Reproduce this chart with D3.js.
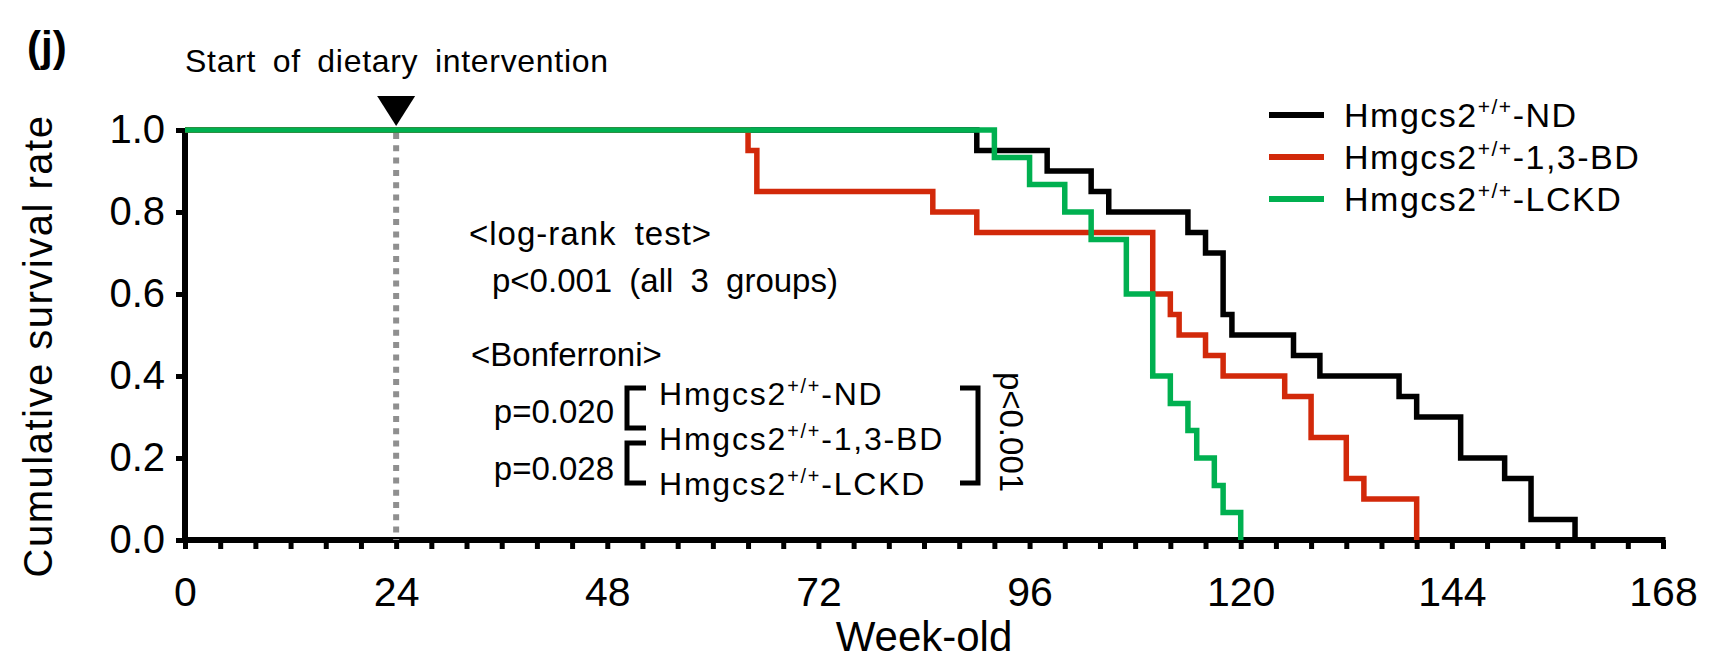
<!DOCTYPE html>
<html>
<head>
<meta charset="utf-8">
<script src="https://cdn.jsdelivr.net/npm/d3@7"></script>
<style>
  body { margin: 0; background: #fff; }
  text { font-family: "Liberation Sans", Arial, sans-serif; fill: #000; }
</style>
</head>
<body>
<div id="chart"></div>
<script>
/* Kaplan-Meier survival curves, Hmgcs2+/+ mice on 3 diets */

// --- data ---
const groupNames = ["ND", "1,3-BD", "LCKD"];
const groupColors = ["#000000", "#d2290a", "#00b050"];

const weeksND = [90, 98, 103, 105, 114, 116, 118, 119, 126, 129, 138, 140, 145, 150, 153, 158];
const survND  = [0.95, 0.90, 0.85, 0.80, 0.75, 0.70, 0.55, 0.50, 0.45, 0.40, 0.35, 0.30, 0.20, 0.15, 0.05, 0];

const weeksBD = [64, 65, 85, 90, 110, 112, 113, 116, 118, 125, 128, 132, 134, 140];
const survBD  = [0.95, 0.85, 0.80, 0.75, 0.60, 0.55, 0.50, 0.45, 0.40, 0.35, 0.25, 0.15, 0.10, 0];

const weeksLCKD = [92, 96, 100, 103, 107, 110, 112, 114, 115, 117, 118, 120];
const survLCKD  = [0.933, 0.867, 0.80, 0.733, 0.60, 0.40, 0.333, 0.267, 0.20, 0.133, 0.067, 0];

const xTicks = d3.range(0, 169, 4);      // minor ticks every 4 weeks
const xLabels = [0, 24, 48, 72, 96, 120, 144, 168];
const yTicks = [0, 0.2, 0.4, 0.6, 0.8, 1.0];
const startWeek = 24;                    // start of dietary intervention

const width = 1725,
      height = 669,
      margin = ({ top: 130, right: 62, bottom: 129, left: 185 });

let svg = d3.select("#chart")
    .append("svg")
    .attr("width", width)
    .attr("height", height);

let x = d3.scaleLinear()
    .domain([0, 168])
    .range([margin.left, width - margin.right]);

let y = d3.scaleLinear()
    .domain([0, 1])
    .range([height - margin.bottom, margin.top]);

// text with superscript "+/+"
function hmgcs(sel, suffix, size) {
    sel.append("tspan").text("Hmgcs2");
    sel.append("tspan").text("+/+")
        .attr("font-size", size * 0.62)
        .attr("dy", -size * 0.38);
    sel.append("tspan").text("-" + suffix)
        .attr("dy", size * 0.38);
}

/* axes */
const xAxis = g => g
    .attr("transform", `translate(0, ${y(0)})`)
    .call(d3.axisBottom(x)
        .tickValues(xTicks)
        .tickSize(9)
        .tickPadding(28)
        .tickFormat(d => xLabels.includes(d) ? d : ""))
    .call(g => g.select(".domain").remove())
    .call(g => g.selectAll(".tick line").attr("stroke", "#000").attr("stroke-width", 5))
    .call(g => g.selectAll(".tick text").attr("font-size", 41).attr("font-family", null));

const yAxis = g => g
    .attr("transform", `translate(${x(0)}, 0)`)
    .call(d3.axisLeft(y)
        .tickValues(yTicks)
        .tickSize(9)
        .tickPadding(11)
        .tickFormat(d3.format(".1f")))
    .call(g => g.select(".domain").remove())
    .call(g => g.selectAll(".tick line").attr("stroke", "#000").attr("stroke-width", 5))
    .call(g => g.selectAll(".tick text").attr("font-size", 40).attr("font-family", null));

svg.append("g").call(xAxis);
svg.append("g").call(yAxis);

// axis lines
svg.append("line")
    .attr("x1", x(0) - 2.5).attr("x2", x(168) + 2.5)
    .attr("y1", y(0)).attr("y2", y(0))
    .attr("stroke", "#000").attr("stroke-width", 6);
svg.append("line")
    .attr("x1", x(0)).attr("x2", x(0))
    .attr("y1", y(1)).attr("y2", y(0))
    .attr("stroke", "#000").attr("stroke-width", 6);

// dotted line at start of intervention
svg.append("line")
    .attr("x1", x(startWeek)).attr("x2", x(startWeek))
    .attr("y1", y(1) + 3).attr("y2", y(0))
    .attr("stroke", "#8f8f8f")
    .attr("stroke-width", 6)
    .attr("stroke-dasharray", "6,6.3");

/* survival curves */
const series = [
    { weeks: weeksND, surv: survND },
    { weeks: weeksBD, surv: survBD },
    { weeks: weeksLCKD, surv: survLCKD }
];

const line = d3.line()
    .x(d => x(d[0]))
    .y(d => y(d[1]))
    .curve(d3.curveStepAfter);

series.forEach((s, i) => {
    let pts = [[0, 1]].concat(s.weeks.map((w, j) => [w, s.surv[j]]));
    svg.append("path")
        .attr("d", line(pts))
        .attr("fill", "none")
        .attr("stroke", groupColors[i])
        .attr("stroke-width", 5.5);
});

// triangle marker
const tx = x(startWeek), ty = y(1) - 4;
svg.append("path")
    .attr("d", `M${tx - 19},${ty - 30} L${tx + 19},${ty - 30} L${tx},${ty} Z`)
    .attr("fill", "#000");

/* labels */
svg.append("text")
    .attr("x", 27).attr("y", 61)
    .attr("font-size", 42).attr("font-weight", "bold")
    .text("(j)");

svg.append("text")
    .attr("x", 185).attr("y", 72)
    .attr("font-size", 32)
    .attr("letter-spacing", 0.7)
    .attr("word-spacing", 7)
    .text("Start of dietary intervention");

svg.append("text")
    .attr("x", (x(0) + x(168)) / 2).attr("y", 651)
    .attr("text-anchor", "middle")
    .attr("font-size", 42)
    .text("Week-old");

svg.append("text")
    .attr("transform", "translate(52, 346) rotate(-90)")
    .attr("text-anchor", "middle")
    .attr("font-size", 40)
    .attr("letter-spacing", 1.5)
    .text("Cumulative survival rate");

/* legend */
const legendY = [115, 157, 199];
groupNames.forEach((n, i) => {
    svg.append("line")
        .attr("x1", 1269).attr("x2", 1324)
        .attr("y1", legendY[i]).attr("y2", legendY[i])
        .attr("stroke", groupColors[i]).attr("stroke-width", 6);
    svg.append("text")
        .attr("x", 1344).attr("y", legendY[i] + 12)
        .attr("font-size", 34)
        .attr("letter-spacing", 1.5)
        .call(t => hmgcs(t, n, 34));
});

/* statistics annotation */
svg.append("text")
    .attr("x", 469).attr("y", 245)
    .attr("font-size", 33).attr("letter-spacing", 1).attr("word-spacing", 8)
    .text("<log-rank test>");
svg.append("text")
    .attr("x", 492).attr("y", 292)
    .attr("font-size", 33).attr("word-spacing", 8)
    .text("p<0.001  (all 3 groups)");
svg.append("text")
    .attr("x", 471).attr("y", 366)
    .attr("font-size", 33)
    .text("<Bonferroni>");

const annY = [405, 450, 495];
groupNames.forEach((n, i) => {
    svg.append("text")
        .attr("x", 659).attr("y", annY[i])
        .attr("font-size", 32)
        .attr("letter-spacing", 1.8)
        .call(t => hmgcs(t, n, 32));
});

svg.append("text")
    .attr("x", 614).attr("y", 423)
    .attr("text-anchor", "end").attr("font-size", 33)
    .text("p=0.020");
svg.append("text")
    .attr("x", 614).attr("y", 480)
    .attr("text-anchor", "end").attr("font-size", 33)
    .text("p=0.028");

const bracket = (d) => svg.append("path")
    .attr("d", d)
    .attr("fill", "none")
    .attr("stroke", "#000")
    .attr("stroke-width", 5);
bracket("M646,388 H627 V428 H646");
bracket("M646,443 H627 V483 H646");
bracket("M960,388 H978 V483 H960");

svg.append("text")
    .attr("transform", "translate(1000, 432) rotate(90)")
    .attr("text-anchor", "middle")
    .attr("font-size", 33)
    .text("p<0.001");
</script>
</body>
</html>
